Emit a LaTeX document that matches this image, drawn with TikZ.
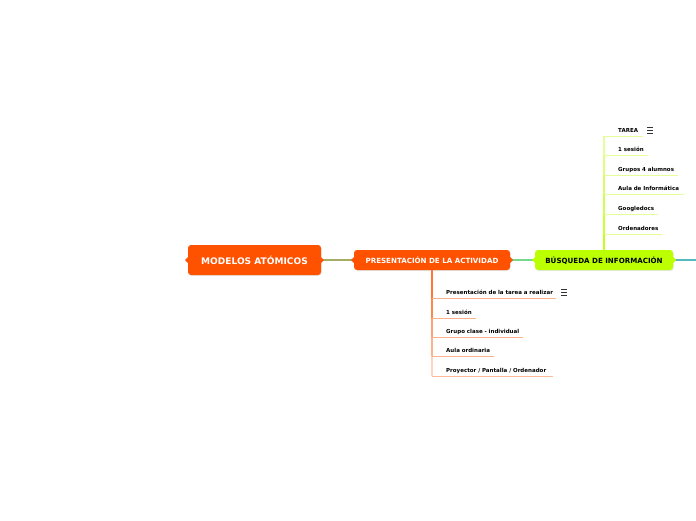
\documentclass[tikz,border=0pt]{standalone}
\usepackage{fontspec}
\setmainfont{DejaVu Sans}
\usetikzlibrary{shadows}
\definecolor{mainorange}{HTML}{FF5200}
\definecolor{limegreen}{HTML}{BBFF00}
\definecolor{oliveline}{HTML}{A3AD66}
\definecolor{greenline}{HTML}{78D88A}
\definecolor{tealline}{HTML}{55B8BE}
\tikzset{
  mainbox/.style={draw=none,fill=mainorange,rounded corners=3pt,text=white,font=\bfseries\fontsize{9.05}{10}\selectfont,drop shadow={shadow xshift=0.6pt,shadow yshift=-0.8pt,opacity=0.2}},
  subbox/.style={mainbox,text height=6.2pt,text depth=0pt,font=\bfseries\fontsize{7.1}{8}\selectfont},
  limebox/.style={subbox,fill=limegreen,text=black},
  leaf/.style={anchor=south west,inner xsep=0pt,inner ysep=0pt,align=left,text height=5pt,text depth=3.8pt,font=\bfseries\fontsize{5.5}{6}\selectfont},
  orangeline/.style={line width=1.3pt,color=#1},
  limeline/.style={line width=1.3pt,color=#1},
  underline/.style={line width=0.9pt,color=#1},
  menuline/.style={line width=0.7pt,color=black!80},
}
\begin{document}
\begin{tikzpicture}[x=1pt,y=-1pt]
  \useasboundingbox (0,0) rectangle (696,520);
  % boxes
  \node[mainbox,minimum width=133pt,minimum height=30pt] (modelos) at (254.5,260) {MODELOS ATÓMICOS};
  \node[subbox,minimum width=156pt,minimum height=20pt] (presentacion) at (432,260) {PRESENTACIÓN DE LA ACTIVIDAD};
  \node[limebox,minimum width=138pt,minimum height=20pt] (busqueda) at (604,260) {BÚSQUEDA DE INFORMACIÓN};
  \coordinate (leftend) at (185,260);
  \coordinate (rightend) at (696,260);
  \fill[mainorange] (leftend) -- (188,257) -- (188,263) -- cycle;% left tip
  % links between boxes
  \draw[line width=1.2pt,color=oliveline] (modelos) -- (presentacion);
  \draw[line width=1.2pt,color=greenline] (presentacion) -- (busqueda);
  \draw[line width=1.2pt,color=tealline] (busqueda) -- (rightend);
  \fill[mainorange] (321,257) -- (324,260) -- (321,263) -- cycle;% tips on the links
  \fill[mainorange] (354,257) -- (351,260) -- (354,263) -- cycle;
  \fill[mainorange] (510,257) -- (513,260) -- (510,263) -- cycle;
  \fill[limegreen] (535,257) -- (532,260) -- (535,263) -- cycle;
  \fill[limegreen] (673,257) -- (676,260) -- (673,263) -- cycle;
  % lower leaves
  \node[leaf,text width=110pt] (tarea) at (446,298) {Presentación de la tarea a realizar};
  \node[leaf,text width=30pt] (sesion) at (446,318) {1 sesión};
  \node[leaf,text width=77pt] (grupo) at (446,337) {Grupo clase - individual};
  \node[leaf,text width=48pt] (aula) at (446,356) {Aula ordinaria};
  \node[leaf,text width=107pt] (proyector) at (446,376) {Proyector / Pantalla / Ordenador};
  \coordinate (ta) at (432,298);
  \coordinate (tb) at (432,318);
  \coordinate (tc) at (432,337);
  \coordinate (td) at (432,356);
  \coordinate (te) at (432,376);
  \draw[orangeline=mainorange!80] (presentacion.south) -- (ta);
  \draw[orangeline=mainorange!70] (ta) -- (tb);
  \draw[orangeline=mainorange!55] (tb) -- (tc);
  \draw[orangeline=mainorange!45] (tc) -- (td);
  \draw[orangeline=mainorange!25] (td) -- (te);
  \draw[underline=mainorange!45] (ta) -- (tarea.south east);
  \draw[underline=mainorange!45] (tb) -- (sesion.south east);
  \draw[underline=mainorange!45] (tc) -- (grupo.south east);
  \draw[underline=mainorange!45] (td) -- (aula.south east);
  \draw[underline=mainorange!40] (te) -- (proyector.south east);
  % upper leaves
  \node[leaf,text width=25pt] (ltarea) at (618,136) {TAREA};
  \node[leaf,text width=30pt] (lsesion) at (618,155) {1 sesión};
  \node[leaf,text width=60pt] (lgrupos) at (618,175) {Grupos 4 alumnos};
  \node[leaf,text width=66pt] (laula) at (618,194) {Aula de Informática};
  \node[leaf,text width=40pt] (ldocs) at (618,214) {Googledocs};
  \node[leaf,text width=44pt] (lorden) at (618,234) {Ordenadores};
  \coordinate (ua) at (604,136);
  \coordinate (ub) at (604,155);
  \coordinate (uc) at (604,175);
  \coordinate (ud) at (604,194);
  \coordinate (ue) at (604,214);
  \coordinate (uf) at (604,234);
  \draw[limeline=limegreen!90] (busqueda.north) -- (uf);
  \draw[limeline=limegreen!80] (uf) -- (ue);
  \draw[limeline=limegreen!70] (ue) -- (ud);
  \draw[limeline=limegreen!60] (ud) -- (uc);
  \draw[limeline=limegreen!50] (uc) -- (ub);
  \draw[limeline=limegreen!40] (ub) -- (ua);
  \draw[underline=limegreen!40] (ua) -- (ltarea.south east);
  \draw[underline=limegreen!40] (ub) -- (lsesion.south east);
  \draw[underline=limegreen!40] (uc) -- (lgrupos.south east);
  \draw[underline=limegreen!40] (ud) -- (laula.south east);
  \draw[underline=limegreen!40] (ue) -- (ldocs.south east);
  \draw[underline=limegreen!40] (uf) -- (lorden.south east);
  % menu marks
  \draw[menuline] (561,289) -- (567,289) (561,292) -- (567,292) (561,295) -- (567,295);
  \draw[menuline] (647,127) -- (653,127) (647,130) -- (653,130) (647,133) -- (653,133);
\end{tikzpicture}
\end{document}
